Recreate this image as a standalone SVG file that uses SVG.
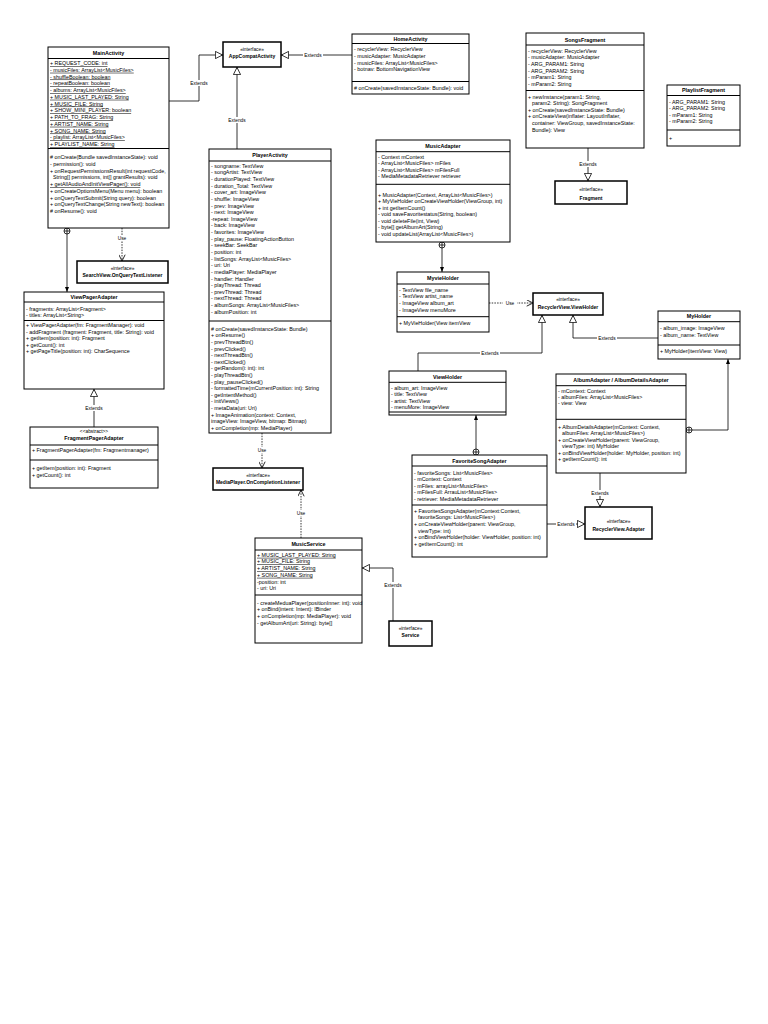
<svg xmlns="http://www.w3.org/2000/svg" width="768" height="1024" viewBox="0 0 768 1024">
<style>
.t{font-family:"Liberation Sans",Arial,sans-serif;font-size:5.35px;fill:#000}
.b{font-weight:bold;text-anchor:middle}
.c{text-anchor:middle}
.s{font-size:4.8px}
.n{font-size:5px}
.u{text-decoration:underline}
.box{fill:#fff;stroke:#000;stroke-width:1}
.ibox{fill:#fff;stroke:#000;stroke-width:1.5}
.sep{stroke:#000;stroke-width:1}
.ln{stroke:#000;stroke-width:0.8;fill:none}
.dash{stroke-dasharray:1.5,1.2}
.lbl{fill:#fff}
</style>
<defs>
<marker id="tri" viewBox="0 0 10 10" refX="10" refY="5" markerWidth="8" markerHeight="8" markerUnits="userSpaceOnUse" orient="auto"><path d="M0.5,0.5 L9.5,5 L0.5,9.5 Z" fill="#fff" stroke="#000" stroke-width="1"/></marker>
<marker id="open" viewBox="0 0 10 10" refX="9.5" refY="5" markerWidth="7" markerHeight="7" markerUnits="userSpaceOnUse" orient="auto"><path d="M0.5,0.5 L9.5,5 L0.5,9.5" fill="none" stroke="#000" stroke-width="1.2"/></marker>
<marker id="fill" viewBox="0 0 10 10" refX="10" refY="5" markerWidth="5" markerHeight="5" markerUnits="userSpaceOnUse" orient="auto"><path d="M0,1 L10,5 L0,9 Z" fill="#000"/></marker>
</defs>
<rect width="768" height="1024" fill="#fff"/>

<g id="connectors">
<polyline class="ln" points="169,101 199,101 199,55 223,55" marker-end="url(#tri)"/>
<line class="ln" x1="352" y1="55" x2="281" y2="55" marker-end="url(#tri)"/>
<line class="ln" x1="237" y1="149" x2="237" y2="67" marker-end="url(#tri)"/>
<line class="ln dash" x1="122" y1="228" x2="122" y2="261" marker-end="url(#open)"/>
<line class="ln" x1="67" y1="234" x2="67" y2="292" marker-end="url(#fill)"/>
<circle cx="67" cy="231" r="3" fill="#fff" stroke="#000" stroke-width="0.8"/><path class="ln" d="M64,231 H70 M67,228 V234"/>
<line class="ln" x1="94" y1="427" x2="94" y2="389" marker-end="url(#tri)"/>
<line class="ln" x1="588" y1="148" x2="588" y2="181" marker-end="url(#tri)"/>
<line class="ln" x1="442" y1="248" x2="442" y2="272" marker-end="url(#fill)"/>
<circle cx="442" cy="245" r="3" fill="#fff" stroke="#000" stroke-width="0.8"/><path class="ln" d="M439,245 H445 M442,242 V248"/>
<line class="ln dash" x1="489" y1="303" x2="533" y2="303" marker-end="url(#open)"/>
<polyline class="ln" points="418,371 418,353 542,353 542,315" marker-end="url(#tri)"/>
<polyline class="ln" points="658,338 573,338 573,315" marker-end="url(#tri)"/>
<line class="ln" x1="476" y1="449" x2="476" y2="415" marker-end="url(#fill)"/>
<circle cx="476" cy="452" r="3" fill="#fff" stroke="#000" stroke-width="0.8"/><path class="ln" d="M473,452 H479 M476,449 V455"/>
<polyline class="ln" points="692,430 728,430 728,359" marker-end="url(#fill)"/>
<circle cx="689" cy="430" r="3" fill="#fff" stroke="#000" stroke-width="0.8"/><path class="ln" d="M686,430 H692 M689,427 V433"/>
<line class="ln" x1="600" y1="473" x2="600" y2="507" marker-end="url(#tri)"/>
<line class="ln" x1="547" y1="524" x2="585" y2="524" marker-end="url(#tri)"/>
<line class="ln dash" x1="262" y1="433" x2="262" y2="468" marker-end="url(#open)"/>
<line class="ln dash" x1="301" y1="538" x2="301" y2="490" marker-end="url(#open)"/>
<polyline class="ln" points="393,621 393,568 362,568" marker-end="url(#tri)"/>
<g>
<rect class="lbl" x="189" y="80" width="20" height="6"/><text class="t c s" x="199" y="84.6">Extends</text>
<rect class="lbl" x="303" y="52" width="20" height="6"/><text class="t c s" x="313" y="56.6">Extends</text>
<rect class="lbl" x="227" y="117" width="20" height="6"/><text class="t c s" x="237" y="121.6">Extends</text>
<rect class="lbl" x="115" y="235" width="14" height="6"/><text class="t c s" x="122" y="239.6">Use</text>
<rect class="lbl" x="84" y="405" width="20" height="6"/><text class="t c s" x="94" y="409.6">Extends</text>
<rect class="lbl" x="578" y="161" width="20" height="6"/><text class="t c s" x="588" y="165.6">Extends</text>
<rect class="lbl" x="503" y="300" width="14" height="6"/><text class="t c s" x="510" y="304.6">Use</text>
<rect class="lbl" x="480" y="350" width="20" height="6"/><text class="t c s" x="490" y="354.6">Extends</text>
<rect class="lbl" x="597" y="335" width="20" height="6"/><text class="t c s" x="607" y="339.6">Extends</text>
<rect class="lbl" x="590" y="490" width="20" height="6"/><text class="t c s" x="600" y="494.6">Extends</text>
<rect class="lbl" x="556" y="521" width="20" height="6"/><text class="t c s" x="566" y="525.6">Extends</text>
<rect class="lbl" x="255" y="447" width="14" height="6"/><text class="t c s" x="262" y="451.6">Use</text>
<rect class="lbl" x="294" y="510" width="14" height="6"/><text class="t c s" x="301" y="514.6">Use</text>
<rect class="lbl" x="383" y="582" width="20" height="6"/><text class="t c s" x="393" y="586.6">Extends</text>
</g>
</g>

<g id="MainActivity">
<rect class="box" x="48" y="47" width="121" height="181"/>
<text class="t b" x="108.5" y="55">MainActivity</text>
<line class="sep" x1="48" y1="58.5" x2="169" y2="58.5"/>
<text class="t u" x="50" y="65"><tspan x="50">+ REQUEST_CODE: int</tspan><tspan x="50" dy="6.75">- musicFiles: ArrayList&lt;MusicFiles&gt;</tspan><tspan x="50" dy="6.75">- shuffleBoolean: boolean</tspan><tspan x="50" dy="6.75">- repeatBoolean: boolean</tspan><tspan x="50" dy="6.75">- albums: ArrayList&lt;MusicFiles&gt;</tspan><tspan x="50" dy="6.75">+ MUSIC_LAST_PLAYED: String</tspan><tspan x="50" dy="6.75">+ MUSIC_FILE: String</tspan><tspan x="50" dy="6.75">+ SHOW_MINI_PLAYER: boolean</tspan><tspan x="50" dy="6.75">+ PATH_TO_FRAG: String</tspan><tspan x="50" dy="6.75">+ ARTIST_NAME: String</tspan><tspan x="50" dy="6.75">+ SONG_NAME: String</tspan><tspan x="50" dy="6.75">- playlist: ArrayList&lt;MusicFiles&gt;</tspan><tspan x="50" dy="6.75">+ PLAYLIST_NAME: String</tspan></text>
<line class="sep" x1="48" y1="148.5" x2="169" y2="148.5" stroke-width="1.3"/>
<text class="t" x="50" y="159"><tspan x="50"># onCreate(Bundle savedInstanceState): void</tspan><tspan x="50" dy="6.75">- permission(): void</tspan><tspan x="50" dy="6.75">+ onRequestPermissionsResult(int requestCode,</tspan><tspan x="53" dy="6.75">String[] permissions, int[] grantResults): void</tspan></text>
<text class="t u" x="50" y="186">+ getAllAudioAndInitViewPager(): void</text>
<text class="t" x="50" y="192.75"><tspan x="50">+ onCreateOptionsMenu(Menu menu): boolean</tspan><tspan x="50" dy="6.75">+ onQueryTextSubmit(String query): boolean</tspan><tspan x="50" dy="6.75">+ onQueryTextChange(String newText): boolean</tspan><tspan x="50" dy="6.75"># onResume(): void</tspan></text>
</g>

<g id="AppCompatActivity">
<rect class="ibox" x="223" y="42" width="58" height="25"/>
<text class="t c s" x="252" y="50.8">«interface»</text>
<text class="t b n" x="252" y="57.8">AppCompatActivity</text>
</g>

<g id="HomeActivity">
<rect class="box" x="352" y="34" width="117" height="60"/>
<text class="t b" x="410.5" y="40.8">HomeActivity</text>
<line class="sep" x1="352" y1="43.5" x2="469" y2="43.5"/>
<text class="t" x="354" y="51"><tspan x="354">- recyclerView: RecyclerView</tspan><tspan x="354" dy="6.8">- musicAdapter: MusicAdapter</tspan><tspan x="354" dy="6.8">- musicFiles: ArrayList&lt;MusicFiles&gt;</tspan><tspan x="354" dy="6.8">- botnav: BottomNavigationView</tspan></text>
<line class="sep" x1="352" y1="81.5" x2="469" y2="81.5"/>
<text class="t" x="354" y="90"># onCreate(savedInstanceState: Bundle): void</text>
</g>

<g id="SongsFragment">
<rect class="box" x="526" y="33" width="118" height="115"/>
<text class="t b" x="585" y="41.8">SongsFragment</text>
<line class="sep" x1="526" y1="45" x2="644" y2="45"/>
<text class="t" x="528" y="52.5"><tspan x="528">- recyclerView: RecyclerView</tspan><tspan x="528" dy="6.7">- musicAdapter: MusicAdapter</tspan><tspan x="528" dy="6.7">- ARG_PARAM1: String</tspan><tspan x="528" dy="6.7">- ARG_PARAM2: String</tspan><tspan x="528" dy="6.7">- mParam1: String</tspan><tspan x="528" dy="6.7">- mParam2: String</tspan></text>
<line class="sep" x1="526" y1="90.5" x2="644" y2="90.5"/>
<text class="t" x="528" y="98.5"><tspan x="528">+ newInstance(param1: String,</tspan><tspan x="532" dy="6.6">param2: String): SongFragment</tspan><tspan x="528" dy="6.6">+ onCreate(savedInstanceState: Bundle)</tspan><tspan x="528" dy="6.6">+ onCreateView(inflater: LayoutInflater,</tspan><tspan x="532" dy="6.6">container: ViewGroup, savedInstanceState:</tspan><tspan x="532" dy="6.6">Bundle): View</tspan></text>
</g>

<g id="PlaylistFragment">
<rect class="box" x="667" y="85" width="73" height="61"/>
<text class="t b" x="703.5" y="91.8">PlaylistFragment</text>
<line class="sep" x1="667" y1="95.5" x2="740" y2="95.5"/>
<text class="t" x="669" y="103.5"><tspan x="669">- ARG_PARAM1: String</tspan><tspan x="669" dy="6.6">- ARG_PARAM2: String</tspan><tspan x="669" dy="6.6">- mParam1: String</tspan><tspan x="669" dy="6.6">- mParam2: String</tspan></text>
<line class="sep" x1="667" y1="130" x2="740" y2="130"/>
<text class="t" x="669" y="139.8">+</text>
</g>

<g id="Fragment">
<rect class="ibox" x="555" y="181" width="72" height="23"/>
<text class="t c s" x="591" y="190.5">«interface»</text>
<text class="t b n" x="591" y="199.5">Fragment</text>
</g>

<g id="PlayerActivity">
<rect class="box" x="209" y="149" width="122" height="284"/>
<text class="t b" x="270" y="156.8">PlayerActivity</text>
<line class="sep" x1="209" y1="161" x2="331" y2="161"/>
<text class="t" x="211" y="167.8"><tspan x="211">- songname: TextView</tspan><tspan x="211" dy="6.63">- songArtist: TextView</tspan><tspan x="211" dy="6.63">- durationPlayed: TextView</tspan><tspan x="211" dy="6.63">- duration_Total: TextView</tspan><tspan x="211" dy="6.63">- cover_art: ImageView</tspan><tspan x="211" dy="6.63">- shuffle: ImageView</tspan><tspan x="211" dy="6.63">- prev: ImageView</tspan><tspan x="211" dy="6.63">- next: ImageView</tspan><tspan x="211" dy="6.63">-repeat: ImageView</tspan><tspan x="211" dy="6.63">- back: ImageView</tspan><tspan x="211" dy="6.63">- favorites: ImageView</tspan><tspan x="211" dy="6.63">- play_pause: FloatingActionButton</tspan><tspan x="211" dy="6.63">- seekBar: SeekBar</tspan><tspan x="211" dy="6.63">- position: int</tspan><tspan x="211" dy="6.63">- listSongs: ArrayList&lt;MusicFiles&gt;</tspan><tspan x="211" dy="6.63">- uri: Uri</tspan><tspan x="211" dy="6.63">- mediaPlayer: MediaPlayer</tspan><tspan x="211" dy="6.63">- handler: Handler</tspan><tspan x="211" dy="6.63">- playThread: Thread</tspan><tspan x="211" dy="6.63">- prevThread: Thread</tspan><tspan x="211" dy="6.63">- nextThread: Thread</tspan><tspan x="211" dy="6.63">- albumSongs: ArrayList&lt;MusicFiles&gt;</tspan><tspan x="211" dy="6.63">- albumPosition: int</tspan></text>
<line class="sep" x1="209" y1="321" x2="331" y2="321"/>
<text class="t" x="211" y="330.8"><tspan x="211"># onCreate(savedInstanceState: Bundle)</tspan><tspan x="211" dy="6.6">+ onResume()</tspan><tspan x="211" dy="6.6">- prevThreadBtn()</tspan><tspan x="211" dy="6.6">- prevClicked()</tspan><tspan x="211" dy="6.6">- nextThreadBtn()</tspan><tspan x="211" dy="6.6">- nextClicked()</tspan><tspan x="211" dy="6.6">- getRandom(i: int): int</tspan><tspan x="211" dy="6.6">- playThreadBtn()</tspan><tspan x="211" dy="6.6">- play_pauseClicked()</tspan><tspan x="211" dy="6.6">- formattedTime(mCurrentPosition: int): String</tspan><tspan x="211" dy="6.6">- getIntentMethod()</tspan><tspan x="211" dy="6.6">- initViews()</tspan><tspan x="211" dy="6.6">- metaData(uri: Uri)</tspan><tspan x="211" dy="6.6">+ ImageAnimation(context: Context,</tspan><tspan x="211" dy="6.6">imageView: ImageView, bitmap: Bitmap)</tspan><tspan x="211" dy="6.6">+ onCompletion(mp: MediaPlayer)</tspan></text>
</g>

<g id="SearchViewListener">
<rect class="ibox" x="77" y="261" width="91" height="22"/>
<text class="t c s" x="122.5" y="269.8">«interface»</text>
<text class="t b n" x="122.5" y="276.5">SearchView.OnQueryTextListener</text>
</g>

<g id="ViewPagerAdapter">
<rect class="box" x="24" y="292" width="140" height="97"/>
<text class="t b" x="94" y="298.5">ViewPagerAdapter</text>
<line class="sep" x1="24" y1="302" x2="164" y2="302"/>
<text class="t" x="26" y="310.5"><tspan x="26">- fragments: ArrayList&lt;Fragment&gt;</tspan><tspan x="26" dy="6.3">- titles: ArrayList&lt;String&gt;</tspan></text>
<line class="sep" x1="24" y1="320.5" x2="164" y2="320.5"/>
<text class="t" x="26" y="327"><tspan x="26">+ ViewPagerAdapter(fm: FragmentManager): void</tspan><tspan x="26" dy="6.6">- addFragment (fragment: Fragment, title: String): void</tspan><tspan x="26" dy="6.6">+ getItem(position: int): Fragment</tspan><tspan x="26" dy="6.6">+ getCount(): int</tspan><tspan x="26" dy="6.6">+ getPageTitle(position: int): CharSequence</tspan></text>
</g>

<g id="FragmentPagerAdapter">
<rect class="box" x="30" y="427" width="128" height="61"/>
<text class="t c s" x="94" y="433.4">&lt;&lt;abstract&gt;&gt;</text>
<text class="t b" x="94" y="440">FragmentPagerAdapter</text>
<line class="sep" x1="30" y1="445" x2="158" y2="445"/>
<text class="t" x="32" y="451.8">+ FragmentPagerAdapter(fm: Fragmentmanager)</text>
<line class="sep" x1="30" y1="460" x2="158" y2="460"/>
<text class="t" x="32" y="470"><tspan x="32">+ getItem(position: int): Fragment</tspan><tspan x="32" dy="6.7">+ getCount(): int</tspan></text>
</g>

<g id="MusicAdapter">
<rect class="box" x="376" y="140" width="134" height="102"/>
<text class="t b" x="443" y="147.5">MusicAdapter</text>
<line class="sep" x1="376" y1="151.7" x2="510" y2="151.7"/>
<text class="t" x="378" y="158.5"><tspan x="378">- Context mContext</tspan><tspan x="378" dy="6.5">- ArrayList&lt;MusicFiles&gt; mFiles</tspan><tspan x="378" dy="6.5">- ArrayList&lt;MusicFiles&gt; mFilesFull</tspan><tspan x="378" dy="6.5">- MediaMetadataRetriever retriever</tspan></text>
<line class="sep" x1="376" y1="184.3" x2="510" y2="184.3"/>
<text class="t" x="378" y="196.8"><tspan x="378">+ MusicAdapter(Context, ArrayList&lt;MusicFiles&gt;)</tspan><tspan x="378" dy="6.5">+ MyVieHolder onCreateViewHolder(ViewGroup, int)</tspan><tspan x="378" dy="6.5">+ int getItemCount()</tspan><tspan x="378" dy="6.5">- void saveFavoritestatus(String, boolean)</tspan><tspan x="378" dy="6.5">- void deleteFile(int, View)</tspan><tspan x="378" dy="6.5">- byte[] getAlbumArt(String)</tspan><tspan x="378" dy="6.5">- void updateList(ArrayList&lt;MusicFiles&gt;)</tspan></text>
</g>

<g id="MyvieHolder">
<rect class="box" x="397" y="272" width="92" height="60"/>
<text class="t b" x="443" y="280">MyvieHolder</text>
<line class="sep" x1="397" y1="284" x2="489" y2="284"/>
<text class="t" x="399" y="291.8"><tspan x="399">- TextView file_name</tspan><tspan x="399" dy="6.67">- TextView artist_name</tspan><tspan x="399" dy="6.67">- ImageView album_art</tspan><tspan x="399" dy="6.67">- ImageView menuMore</tspan></text>
<line class="sep" x1="397" y1="316.7" x2="489" y2="316.7"/>
<text class="t" x="399" y="325">+ MyVieHolder(View itemView</text>
</g>

<g id="RecyclerViewViewHolder">
<rect class="ibox" x="533" y="293" width="70" height="22"/>
<text class="t c s" x="568" y="301">«interface»</text>
<text class="t b n" x="568" y="308.5">RecyclerView.ViewHolder</text>
</g>

<g id="MyHolder">
<rect class="box" x="658" y="311" width="82" height="48"/>
<text class="t b" x="699" y="317.8">MyHolder</text>
<line class="sep" x1="658" y1="321.7" x2="740" y2="321.7"/>
<text class="t" x="660" y="330"><tspan x="660">- album_image: ImageView</tspan><tspan x="660" dy="6.7">- album_name: TextView</tspan></text>
<line class="sep" x1="658" y1="345" x2="740" y2="345"/>
<text class="t" x="660" y="352.8">+ MyHolder(itemView: View)</text>
</g>

<g id="ViewHolder">
<rect class="box" x="389" y="371" width="117" height="44"/>
<text class="t b" x="447.5" y="378.5">ViewHolder</text>
<line class="sep" x1="389" y1="382.3" x2="506" y2="382.3"/>
<text class="t" x="391" y="390"><tspan x="391">- album_art: ImageView</tspan><tspan x="391" dy="6.4">- title: TextView</tspan><tspan x="391" dy="6.4">- artist: TextView</tspan><tspan x="391" dy="6.4">- menuMore: ImageView</tspan></text>
<line class="sep" x1="389" y1="412" x2="506" y2="412"/>
</g>

<g id="AlbumAdapter">
<rect class="box" x="556" y="374" width="130" height="99"/>
<text class="t b" x="621" y="381.8">AlbumAdapter / AlbumDetailsAdapter</text>
<line class="sep" x1="556" y1="385.7" x2="686" y2="385.7"/>
<text class="t" x="558" y="392.5"><tspan x="558">- mContext: Context</tspan><tspan x="558" dy="6.3">- albumFiles: ArrayList&lt;MusicFiles&gt;</tspan><tspan x="558" dy="6.5">- view: View</tspan></text>
<line class="sep" x1="556" y1="419.3" x2="686" y2="419.3"/>
<text class="t" x="558" y="428.5"><tspan x="558">+ AlbumDetailsAdapter(mContext: Context,</tspan><tspan x="562" dy="6.5">albumFiles: ArrayList&lt;MusicFiles&gt;)</tspan><tspan x="558" dy="6.5">+ onCreateViewHolder(parent: ViewGroup,</tspan><tspan x="562" dy="6.5">viewType: int) MyHolder</tspan><tspan x="558" dy="6.5">+ onBindViewHolder(holder: MyHolder, position: int)</tspan><tspan x="558" dy="6.5">+ getItemCount(): int</tspan></text>
</g>

<g id="FavoriteSongAdapter">
<rect class="box" x="412" y="455" width="135" height="102"/>
<text class="t b" x="479.5" y="462.8">FavoriteSongAdapter</text>
<line class="sep" x1="412" y1="466" x2="547" y2="466"/>
<text class="t" x="414" y="474.5"><tspan x="414">- favoriteSongs: List&lt;MusicFiles&gt;</tspan><tspan x="414" dy="6.6">- mContext: Context</tspan><tspan x="414" dy="6.6">- mFiles: arrayList&lt;MusicFiles&gt;</tspan><tspan x="414" dy="6.6">- mFilesFull: ArrauList&lt;MusicFiles&gt;</tspan><tspan x="414" dy="6.6">- retriever: MediaMetadataRetriever</tspan></text>
<line class="sep" x1="412" y1="505" x2="547" y2="505"/>
<text class="t" x="414" y="512.8"><tspan x="414">+ FavoritesSongsAdapter(mContext:Context,</tspan><tspan x="418" dy="6.67">favoriteSongs: List&lt;MusicFiles&gt;)</tspan><tspan x="414" dy="6.67">+ onCreateViewHolder(parent: ViewGroup,</tspan><tspan x="418" dy="6.67">viewType: int)</tspan><tspan x="414" dy="6.67">+ onBindViewHolder(holder: ViewHolder, position: int)</tspan><tspan x="414" dy="6.67">+ getItemCount(): int</tspan></text>
</g>

<g id="RecyclerViewAdapter">
<rect class="ibox" x="585" y="507" width="67" height="32"/>
<text class="t c s" x="618.5" y="522.5">«interface»</text>
<text class="t b n" x="618.5" y="531">RecyclerView.Adapter</text>
</g>

<g id="MediaPlayerListener">
<rect class="ibox" x="213" y="468" width="90" height="22"/>
<text class="t c s" x="258" y="476.8">«interface»</text>
<text class="t b n" x="258" y="483.5">MediaPlayer.OnCompletionListener</text>
</g>

<g id="MusicService">
<rect class="box" x="255" y="538" width="107" height="105"/>
<text class="t b" x="308.5" y="545.8">MusicService</text>
<line class="sep" x1="255" y1="550" x2="362" y2="550"/>
<text class="t u" x="257" y="556.8"><tspan x="257">+ MUSIC_LAST_PLAYED: String</tspan><tspan x="257" dy="6.67">+ MUSIC_FILE: String</tspan><tspan x="257" dy="6.67">+ ARTIST_NAME: String</tspan><tspan x="257" dy="6.67">+ SONG_NAME: String</tspan></text>
<text class="t" x="257" y="583.5"><tspan x="257">-position: int</tspan><tspan x="257" dy="6.67">- uri: Uri</tspan></text>
<line class="sep" x1="255" y1="595" x2="362" y2="595"/>
<text class="t" x="257" y="604.5"><tspan x="257">- createMeduaPlayer(positionInner: int): void</tspan><tspan x="257" dy="6.67">+ onBind(intent: Intent): IBinder</tspan><tspan x="257" dy="6.67">+ onCompletion(mp: MediaPlayer): void</tspan><tspan x="257" dy="6.67">- getAlbumArt(uri: String): byte[]</tspan></text>
</g>

<g id="Service">
<rect class="ibox" x="389" y="621" width="43" height="25"/>
<text class="t c s" x="410.5" y="630">«interface»</text>
<text class="t b n" x="410.5" y="637">Service</text>
</g>
</svg>
